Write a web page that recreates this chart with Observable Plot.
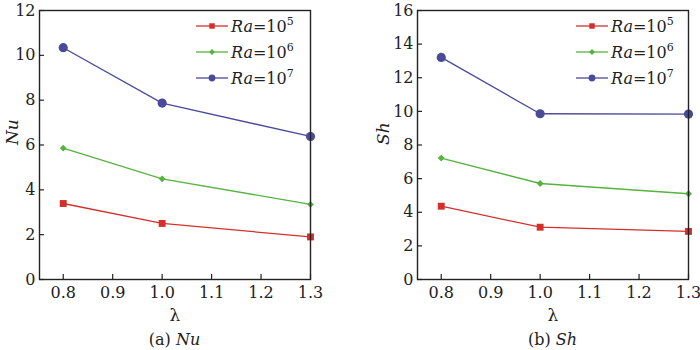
<!DOCTYPE html>
<html><head><meta charset="utf-8">
<script src="https://cdn.jsdelivr.net/npm/d3@7"></script>
<script src="https://cdn.jsdelivr.net/npm/@observablehq/plot@0.6"></script>
<style>
body{margin:0;background:#fff;font-family:"DejaVu Serif",serif;color:#222;}
svg text, svg tspan{font-family:"DejaVu Serif",serif !important;}
#wrap{position:relative;width:700px;height:350px;overflow:hidden;}
.panel{position:absolute;top:0;width:350px;height:350px;}
.caption{position:absolute;top:329px;font-size:16px;line-height:22px;transform:translateX(-50%);white-space:nowrap;}
.legend{position:absolute;top:0;}
.legend .row{position:absolute;height:24px;display:flex;align-items:center;white-space:nowrap;font-size:16px;}
.legend .row svg{margin-right:3px;}
i{font-style:italic;}
sup{font-size:11px;vertical-align:7px;line-height:0;}
</style></head><body>
<div id="wrap"></div>
<script>
// ---- data ----
const lambda = [0.8, 1.0, 1.3];
const series = ["Ra=10^5", "Ra=10^6", "Ra=10^7"];
const raExp = [5, 6, 7];
const nuRa5 = [3.39, 2.50, 1.90];
const nuRa6 = [5.86, 4.49, 3.35];
const nuRa7 = [10.34, 7.87, 6.38];
const shRa5 = [4.36, 3.11, 2.86];
const shRa6 = [7.22, 5.71, 5.10];
const shRa7 = [13.21, 9.86, 9.84];
const xTicks = [0.8, 0.9, 1.0, 1.1, 1.2, 1.3];
const nuTicks = [0, 2, 4, 6, 8, 10, 12];
const shTicks = [0, 2, 4, 6, 8, 10, 12, 14, 16];
const colors = ["#d3302c", "#55b33e", "#4a4a9a"];
const symbols = ["square", "diamond2", "circle"];
const dotR = [3.9, 3.1, 4.6];

function rows(sets) {
  const out = [];
  sets.forEach((vals, si) => vals.forEach((v, i) => out.push({lambda: lambda[i], value: v, series: series[si]})));
  return out;
}

const wrap = document.getElementById("wrap");
const FONT = "DejaVu Serif";

function panel({left, mLeft, mRight, yMax, yTicks, ylab, ylabDx, data, caption, legendX}) {
  const H = 325, mTop = 10, mBottom = 46, W = 350;
  const frameH = H - mTop - mBottom, frameW = W - mLeft - mRight;
  const marks = [
    Plot.line(data, {x: "lambda", y: "value", stroke: "series", z: "series", strokeWidth: 1.3}),
    ...series.map((s, i) => Plot.dot(data.filter(d => d.series === s), {x: "lambda", y: "value", fill: colors[i], symbol: () => symbols[i], r: dotR[i], stroke: "none"})),
    Plot.tickX(xTicks, {x: d => d, insetTop: frameH - 5, stroke: "#222", strokeWidth: 1.2}),
    Plot.tickY(yTicks, {y: d => d, insetRight: frameW - 5, stroke: "#222", strokeWidth: 1.2}),
    Plot.axisX({ticks: xTicks, tickSize: 0, tickPadding: 7, tickFormat: d => d.toFixed(1), label: null, fontSize: 16}),
    Plot.axisY({ticks: yTicks, tickSize: 0, tickPadding: 4, label: null, fontSize: 16}),
    Plot.frame({stroke: "#222", strokeWidth: 1.4}),
    Plot.text(["λ"], {frameAnchor: "bottom", dy: 36, fontSize: 17, lineAnchor: "middle"}),
    Plot.text([ylab], {frameAnchor: "left", dx: ylabDx, rotate: -90, fontSize: 17, fontStyle: "italic", lineAnchor: "middle"})
  ];
  const chart = Plot.plot({
    width: W, height: H,
    marginTop: mTop, marginBottom: mBottom, marginLeft: mLeft, marginRight: mRight,
    x: {domain: [0.752, 1.3]},
    y: {domain: [0, yMax]},
    color: {domain: series, range: colors},
    symbol: {type: "identity"},
    style: {fontSize: "16px", color: "#222", background: "white", overflow: "visible"},
    marks
  });
  const p = document.createElement("div");
  p.className = "panel";
  p.style.left = left + "px";
  p.appendChild(chart);
  const cap = document.createElement("div");
  cap.className = "caption";
  cap.style.left = (mLeft + frameW / 2) + "px";
  cap.innerHTML = caption;
  p.appendChild(cap);
  const leg = document.createElement("div");
  leg.className = "legend";
  leg.style.left = legendX + "px";
  const legY = [14, 40, 66];
  series.forEach((s, i) => {
    const row = document.createElement("div");
    row.className = "row";
    row.style.top = legY[i] + "px";
    const sym = d3.symbol(i === 0 ? d3.symbolSquare : i === 1 ? d3.symbolDiamond2 : d3.symbolCircle, i === 0 ? 30 : i === 1 ? 22 : 36)();
    row.innerHTML = `<svg width="32" height="24"><line x1="0" x2="32" y1="12" y2="12" stroke="${colors[i]}" stroke-width="1.3"/><path d="${sym}" transform="translate(16,12)" fill="${colors[i]}"/></svg><span><i>Ra</i>=10<sup>${raExp[i]}</sup></span>`;
    leg.appendChild(row);
  });
  p.appendChild(leg);
  wrap.appendChild(p);
}

panel({left: 0, mLeft: 39, mRight: 40, yMax: 12, yTicks: nuTicks, ylab: "Nu", ylabDx: -27,
  data: rows([nuRa5, nuRa6, nuRa7]), caption: "(a) <i>Nu</i>", legendX: 196});
panel({left: 350, mLeft: 67, mRight: 12, yMax: 16, yTicks: shTicks, ylab: "Sh", ylabDx: -34,
  data: rows([shRa5, shRa6, shRa7]), caption: "(b) <i>Sh</i>", legendX: 226});
</script>
</body></html>
